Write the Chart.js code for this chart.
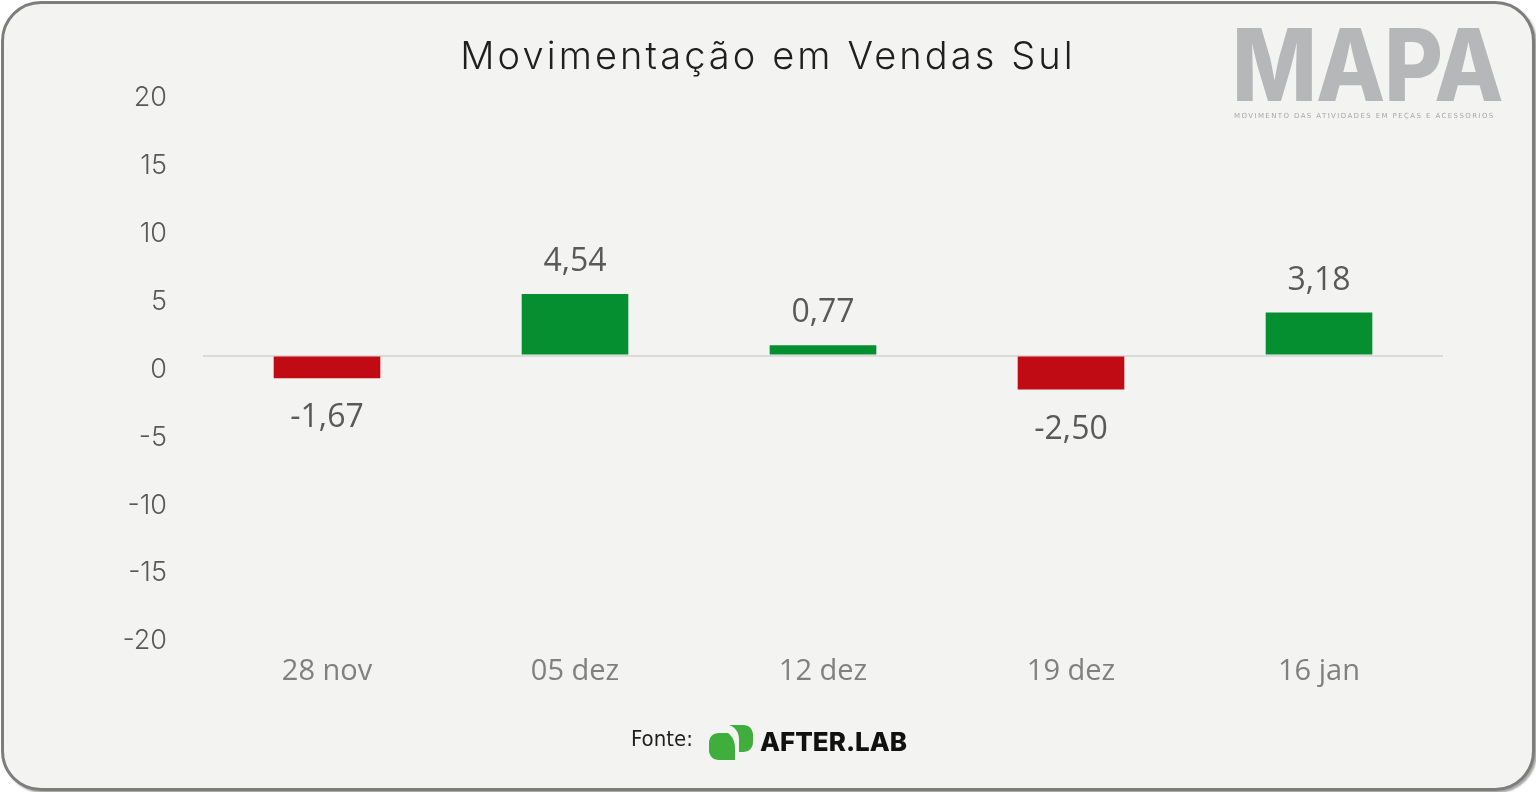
<!DOCTYPE html>
<html>
<head>
<meta charset="utf-8">
<script src="https://cdn.jsdelivr.net/npm/chart.js@4.4.1/dist/chart.umd.min.js"></script>
<style>
  html, body { margin: 0; padding: 0; background: #ffffff; }
  body { width: 1536px; height: 792px; position: relative; overflow: hidden; }
  .frame {
    position: absolute; left: 1px; top: 1px; width: 1528px; height: 784px;
    border: 3px solid #7d7d7d; border-radius: 40px; background: #f3f3f1;
    box-shadow: 2px 2px 2px rgba(0,0,0,0.35);
  }
  #chart { position: absolute; left: 0; top: 0; }
  .mapa {
    position: absolute; left: 1232px; top: 10px;
    font-family: Inter, "Noto Sans", sans-serif; font-weight: 800; font-size: 100px;
    line-height: 110px; color: #b5b7b8; letter-spacing: -1px; white-space: nowrap;
    transform: scaleX(0.9); transform-origin: 0 0;
  }
  .mapa-sub {
    position: absolute; left: 1234px; top: 112px;
    font-family: "DejaVu Sans", sans-serif; font-size: 7px; letter-spacing: 1.4px;
    color: #a6a8a9; white-space: nowrap;
  }
  .fonte {
    position: absolute; left: 631px; top: 726px;
    font-family: "DejaVu Sans Condensed", "Liberation Sans Narrow", sans-serif;
    font-size: 22px; color: #1e1e1e;
  }
  .afterlab { position: absolute; left: 708px; top: 725px; }
  .afterlab-text {
    position: absolute; left: 760px; top: 726px;
    font-family: Inter, "DejaVu Sans", sans-serif; font-weight: 800; font-size: 26px;
    color: #111; letter-spacing: 0px;
  }
</style>
</head>
<body>
<div class="frame"></div>
<canvas id="chart" width="1536" height="792"></canvas>
<div class="mapa">MAPA</div>
<div class="mapa-sub">MOVIMENTO DAS ATIVIDADES EM PEÇAS E ACESSORIOS</div>
<div class="fonte">Fonte:</div>
<svg class="afterlab" width="46" height="38" viewBox="0 0 46 38">
  <path d="M11 8 H20 C24 11 27 16 27 23 V35 H11 C5 35 1 31 1 25 V18 C1 12 5 8 11 8 Z" fill="#3fae3c"/>
  <path d="M21 0 H35 C41 0 45 4 45 10 V17 C45 23 41 27 35 27 H31 V14 C31 7 27 2 21 0 Z" fill="#3fae3c"/>
</svg>
<div class="afterlab-text">AFTER.LAB</div>

<script>
  const chartTitle = "Movimentação em Vendas Sul";
  const categories = ["28 nov", "05 dez", "12 dez", "19 dez", "16 jan"];
  const values = [-1.67, 4.54, 0.77, -2.50, 3.18];
  const yMin = -20;
  const yMax = 20;
  const yStep = 5;

  const RED = "#c00a14";
  const GREEN = "#058f31";

  function fmt(v) {
    return v.toFixed(2).replace(".", ",");
  }

  // wide light title (letter spaced like the original)
  const spacedTitle = {
    id: "spacedTitle",
    afterDraw(chart) {
      const ctx = chart.ctx;
      ctx.save();
      ctx.font = "300 38px Inter, 'Noto Sans', sans-serif";
      ctx.letterSpacing = "3.1px";
      ctx.fillStyle = "#1f1f1f";
      ctx.textAlign = "center";
      ctx.textBaseline = "middle";
      ctx.fillText(chartTitle, 768, 58);
      ctx.restore();
    },
  };

  // value labels above / below each bar
  const valueLabels = {
    id: "valueLabels",
    afterDatasetsDraw(chart) {
      const ctx = chart.ctx;
      const meta = chart.getDatasetMeta(0);
      ctx.save();
      ctx.font = "32px 'Open Sans', sans-serif";
      ctx.fillStyle = "#595959";
      ctx.textAlign = "center";
      ctx.textBaseline = "middle";
      meta.data.forEach((bar, i) => {
        const v = values[i];
        const y = v >= 0 ? Math.min(bar.y, bar.base) - 32 : Math.max(bar.y, bar.base) + 40;
        ctx.fillText(fmt(v), bar.x, y);
      });
      ctx.restore();
    },
  };

  new Chart(document.getElementById("chart"), {
    type: "bar",
    data: {
      labels: categories,
      datasets: [
        {
          data: values,
          backgroundColor: values.map((v) => (v < 0 ? RED : GREEN)),
          borderWidth: 0,
          barPercentage: 0.43,
          categoryPercentage: 1,
        },
      ],
    },
    options: {
      responsive: false,
      animation: false,
      layout: { padding: { left: 83, right: 93, top: 84, bottom: 76 } },
      plugins: {
        legend: { display: false },
        tooltip: { enabled: false },
        title: { display: false },
      },
      scales: {
        x: {
          grid: { display: false, drawTicks: false },
          border: { display: false },
          ticks: {
            color: "#808080",
            font: { family: "'Open Sans', sans-serif", size: 29 },
            padding: 27,
          },
        },
        y: {
          min: yMin,
          max: yMax,
          grid: {
            drawTicks: false,
            lineWidth: 2,
            color: (c) => (c.tick && c.tick.value === 0 ? "#dadada" : "rgba(0,0,0,0)"),
          },
          border: { display: false },
          afterFit(s) { s.width = 120; },
          ticks: {
            stepSize: yStep,
            color: "#595959",
            font: { family: "Inter, 'Noto Sans', sans-serif", size: 27, weight: 300 },
            padding: 36,
            labelOffset: 14,
          },
        },
      },
    },
    plugins: [valueLabels, spacedTitle],
  });
</script>
</body>
</html>
